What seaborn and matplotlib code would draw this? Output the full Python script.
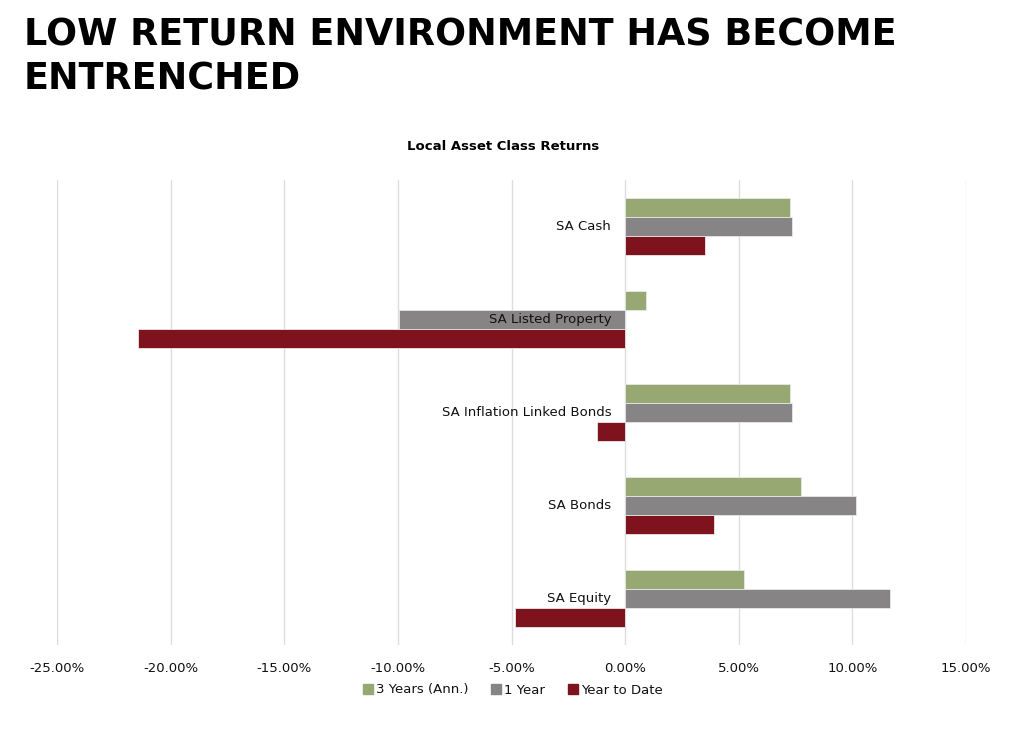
import pandas as pd
import matplotlib.pyplot as plt
import seaborn as sns
from matplotlib.lines import Line2D

# ----- Dados ----------------------------------------------------------------
categories = ["SA Cash", "SA Listed Property", "SA Inflation Linked Bonds",
              "SA Bonds", "SA Equity"]
series_names = ["3 Years (Ann.)", "1 Year", "Year to Date"]
three_years = [7.27, 0.90, 7.27, 7.75, 5.25]
one_year = [7.35, -9.95, 7.35, 10.18, 11.67]
year_to_date = [3.52, -21.45, -1.23, 3.92, -4.85]
xticks = [-25, -20, -15, -10, -5, 0, 5, 10, 15]
colors = ["#98A872", "#868485", "#7E131E"]

df = pd.DataFrame({
    "category": categories * 3,
    "series": sum([[s] * len(categories) for s in series_names], []),
    "value": three_years + one_year + year_to_date,
})

# ----- Figura ---------------------------------------------------------------
sns.set_style("white")
plt.rcParams["font.family"] = ["DejaVu Sans"]
plt.rcParams["text.color"] = "black"

fig = plt.figure(figsize=(10.24, 7.31), dpi=100)
ax = fig.add_axes([57 / 1024, 1 - 645 / 731, (966 - 57) / 1024, (645 - 180) / 731])

sns.barplot(data=df, x="value", y="category", hue="series",
            order=categories, hue_order=series_names,
            palette=colors, saturation=1, width=0.62, orient="h",
            edgecolor="#E8E8E8", linewidth=0.6, legend=False, ax=ax, zorder=2)

ax.set_xlim(-25, 15)
ax.set_ylim(4.5, -0.5)
ax.set_xticks(xticks)
ax.set_xticklabels([f"{t:.2f}%" for t in xticks], fontsize=9.5, color="#111111")
ax.tick_params(axis="x", length=0, pad=12)
ax.set_yticks([])
ax.set_xlabel("")
ax.set_ylabel("")
ax.grid(axis="x", color="#DDDDDD", linewidth=1, zorder=0)
ax.set_axisbelow(True)
for s in ax.spines.values():
    s.set_visible(False)

# rótulos das categorias junto ao eixo zero
for i, cat in enumerate(categories):
    ax.annotate(cat, xy=(0, i), xytext=(-10, 0), textcoords="offset points",
                ha="right", va="center", fontsize=9.5, color="#111111", zorder=5)

# ----- Títulos --------------------------------------------------------------
fig.text(24 / 1024, 1 - 17 / 731, "LOW RETURN ENVIRONMENT HAS BECOME\nENTRENCHED",
         ha="left", va="top", fontsize=26.3, fontweight="bold", linespacing=1.22,
         color="black")
fig.text(503 / 1024, 1 - 146 / 731, "Local Asset Class Returns",
         ha="center", va="center", fontsize=9.5, fontweight="bold", color="black")

# ----- Legenda --------------------------------------------------------------
handles = [Line2D([0], [0], marker="s", linestyle="none", markersize=7,
                  markerfacecolor=c, markeredgecolor=c) for c in colors]
fig.legend(handles, series_names, loc="center", bbox_to_anchor=(512 / 1024, 1 - 690 / 731),
           ncol=3, frameon=False, fontsize=9.5, handletextpad=0.1, columnspacing=1.6,
           handlelength=1, labelcolor="#111111")

fig.savefig("out.png", dpi=100)
plt.close(fig)
